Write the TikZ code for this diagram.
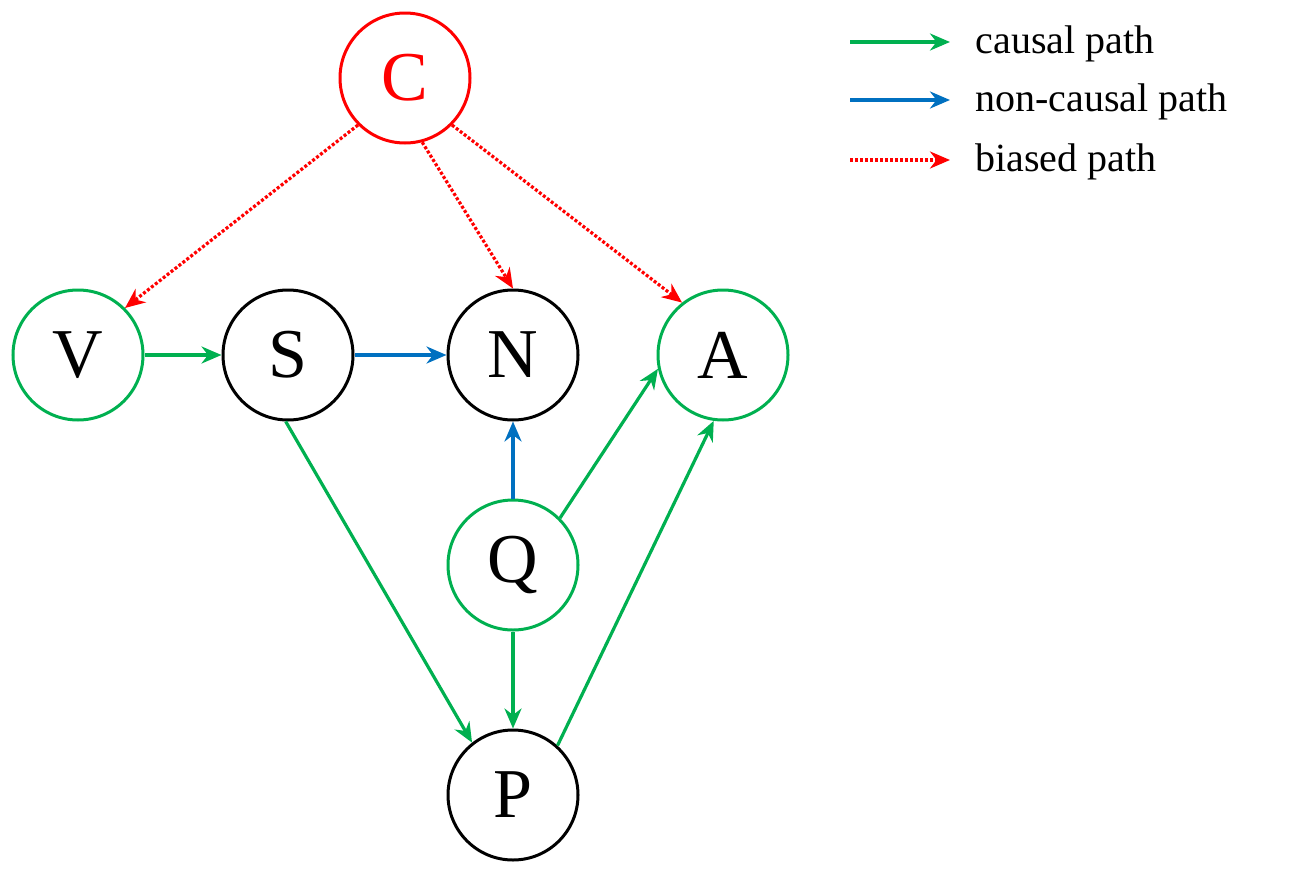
\documentclass[tikz,border=0pt]{standalone}
\usepackage{fontspec}
\setmainfont{Liberation Serif}
\usetikzlibrary{arrows.meta}
\definecolor{cg}{RGB}{0,176,80}
\definecolor{cb}{RGB}{0,112,192}
\definecolor{cr}{RGB}{255,0,0}
\begin{document}
\begin{tikzpicture}[x=1pt,y=-1pt,
  vtx/.style={circle,draw,line width=3pt,minimum size=130pt,inner sep=0pt,font=\fontsize{70}{70}\selectfont},
  arr/.style={line width=3.2pt,-{Stealth[length=20pt,width=17pt]}},
  gre/.style={arr,draw=cg,color=cg},
  blu/.style={arr,draw=cb,color=cb},
  red/.style={arr,draw=cr,color=cr,dash pattern=on 3pt off 2pt},
  lbl/.style={anchor=west,font=\fontsize{40}{40}\selectfont}]
\useasboundingbox (0,0) rectangle (1307,889);
\node[vtx,draw=cr,text=cr] (C) at (405,78) {C};
\node[vtx,draw=cg] (V) at (78,355) {V};
\node[vtx] (S) at (288,355) {S};
\node[vtx] (N) at (513,355) {N};
\node[vtx,draw=cg] (A) at (723,355) {A};
\node[vtx,draw=cg] (Q) at (513,565) {Q};
\node[vtx] (P) at (513,795) {P};
\draw[gre] (V) -- (S);
\draw[blu] (S) -- (N);
\draw[blu] (Q) -- (N);
\draw[gre] (Q.45) -- (A.192);
\draw[gre] (Q) -- (P);
\draw[gre] (S.268) -- (P.128);
\draw[gre] (P.48) -- (A.262);
\draw[red] (C.225) -- (V.45);
\draw[red] (C.285) -- (N.90);
\draw[red] (C.-45) -- (A.128);
\coordinate (l1a) at (850,42); \coordinate (l1b) at (950,42);
\coordinate (l2a) at (850,100); \coordinate (l2b) at (950,100);
\coordinate (l3a) at (850,160); \coordinate (l3b) at (950,160);
\draw[gre] (l1a) -- (l1b);
\draw[blu] (l2a) -- (l2b);
\draw[red] (l3a) -- (l3b);
\node[lbl] (t1) at (972,44) {causal path};
\node[lbl] (t2) at (972,102) {non-causal path};
\node[lbl] (t3) at (972,162) {biased path};
\end{tikzpicture}
\end{document}
